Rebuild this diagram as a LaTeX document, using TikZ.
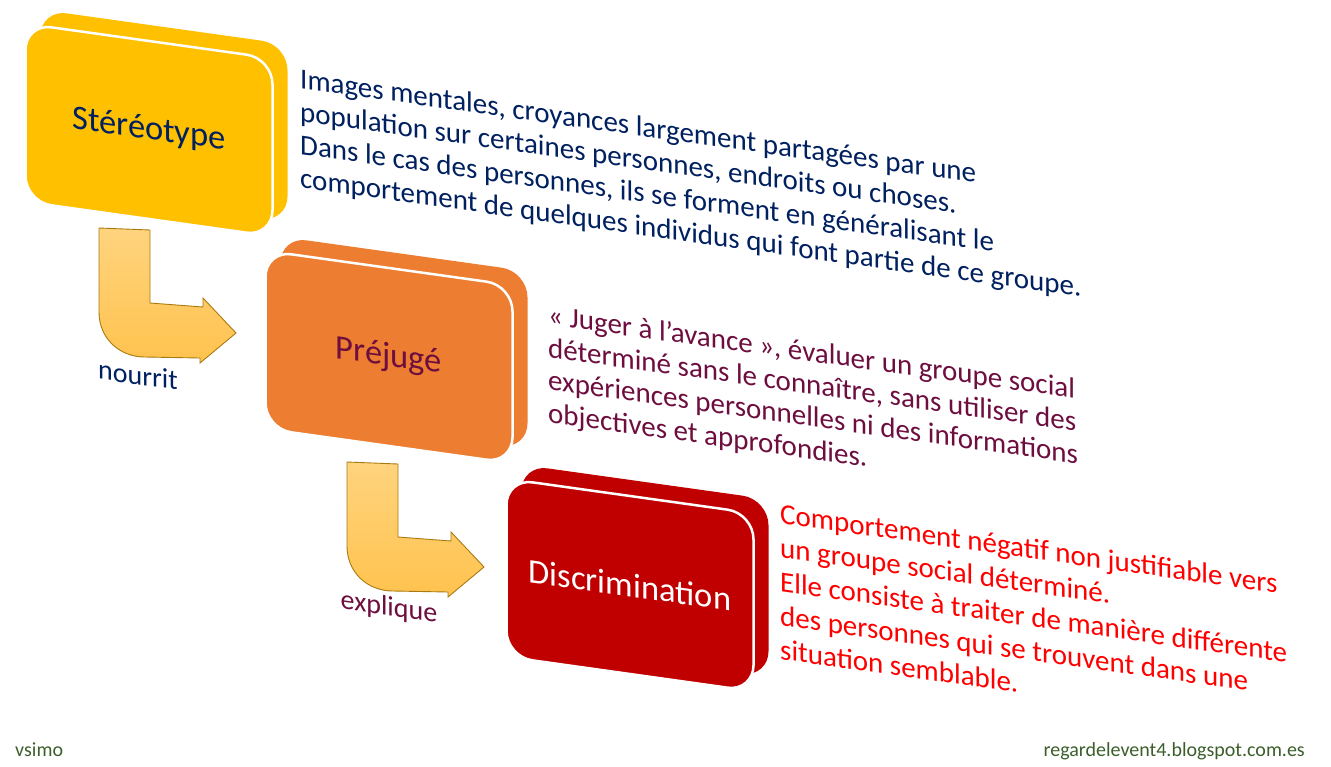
\documentclass[tikz,border=0pt]{standalone}
\usepackage{fontspec}
\setmainfont{Carlito}
\usepackage{xcolor}
\usetikzlibrary{shadows}

\definecolor{stereocol}{HTML}{FFC000}
\definecolor{prejcol}{HTML}{ED7D31}
\definecolor{discrcol}{HTML}{C00000}
\definecolor{navytxt}{HTML}{002060}
\definecolor{maroontxt}{HTML}{6D0E3F}
\definecolor{redtxt}{HTML}{FF0000}
\definecolor{arrowtop}{HTML}{FFD47E}
\definecolor{arrowbot}{HTML}{FFC24E}
\definecolor{arrowedge}{HTML}{A87A10}
\definecolor{foottxt}{HTML}{3B5E2B}

\tikzset{
  box/.style={rectangle, rounded corners=26pt, minimum width=247pt, minimum height=178pt,
    draw=white, line width=2.5pt, inner sep=0pt, yslant=-0.14,
    fill=#1, general shadow={fill=#1, shadow xshift=15pt, shadow yshift=14pt},
    font=\fontsize{34.5}{40}\selectfont},
  desc/.style={anchor=north west, align=left, inner sep=0pt, yslant=-0.14,
    font=\fontsize{29}{#1}\selectfont},
  arrowlabel/.style={inner sep=0pt, yslant=-0.14, font=\fontsize{28}{32}\selectfont},
  bentarrow/.style={top color=arrowtop, bottom color=arrowbot, draw=arrowedge, line width=0.9pt},
  footer/.style={inner sep=0pt, text=foottxt, font=\fontsize{20}{24}\selectfont}
}

\newcommand{\bentshape}[1]{%
  \path[bentarrow] (#1) -- ++(51,2) -- ++(0,73) -- ++(53,4) -- ++(0,-9) -- ++(33,35)
    -- ++(-36,30) -- ++(0,-5) -- ++(-55,-1)
    .. controls ++(-26,0) and ++(0,26) .. ++(-46,-45) -- cycle;}

\begin{document}
\begin{tikzpicture}[x=1pt, y=-1pt]
  \useasboundingbox (0,0) rectangle (1331,766);

  \node[box=stereocol, text=navytxt] (stereo) at (149,130) {Stéréotype};
  \node[box=prejcol, text=maroontxt] (prejuge) at (389,357) {Préjugé};
  \node[box=discrcol, text=white] (discr) at (630,585) {Discrimination};

  \node[desc=33, text=navytxt] (stereotext) at (300,68) {Images mentales, croyances largement partagées par une\\
    population sur certaines personnes, endroits ou choses.\\
    Dans le cas des personnes, ils se forment en généralisant le\\
    comportement de quelques individus qui font partie de ce groupe.};
  \node[desc=32.5, text=maroontxt] (prejtext) at (548,304) {« Juger à l’avance », évaluer un groupe social\\
    déterminé sans le connaître, sans utiliser des\\
    expériences personnelles ni des informations\\
    objectives et approfondies.};
  \node[desc=34, text=redtxt] (discrtext) at (780,503) {Comportement négatif non justifiable vers\\
    un groupe social déterminé.\\
    Elle consiste à traiter de manière différente\\
    des personnes qui se trouvent dans une\\
    situation semblable.};

  \coordinate (nourritstart) at (99,228);
  \coordinate (expliquestart) at (347,462);
  \bentshape{nourritstart}
  \bentshape{expliquestart}

  \node[arrowlabel, text=navytxt] (nourrit) at (138,375) {nourrit};
  \node[arrowlabel, text=maroontxt] (explique) at (389,608) {explique};

  \node[footer, anchor=base west] (author) at (15,756) {vsimo};
  \node[footer, anchor=base east] (blog) at (1305,756) {regardelevent4.blogspot.com.es};
\end{tikzpicture}
\end{document}
